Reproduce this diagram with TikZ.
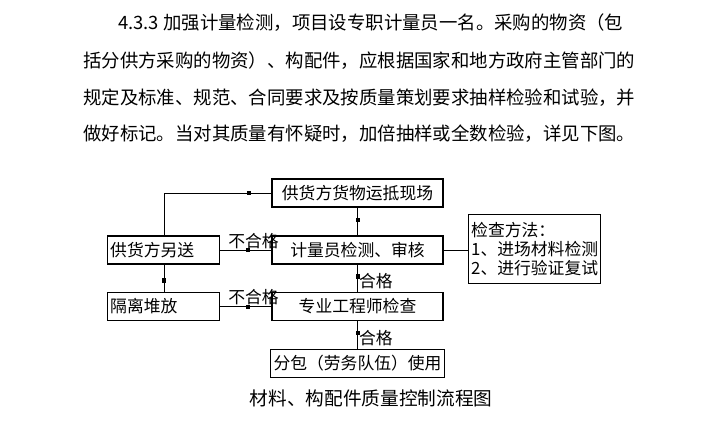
\documentclass[tikz,border=0pt]{standalone}
\usepackage{fontspec}
\setmainfont{Noto Sans CJK SC}
\usetikzlibrary{arrows.meta,decorations.markings}
\begin{document}
\begin{tikzpicture}[
    x=0.75pt,y=-0.75pt,
    flowbox/.style={
        draw, line width=0.8pt, % border
        minimum height=21pt,
        inner sep=2pt,
        font=\fontsize{12.6pt}{14pt}\selectfont},
    sidebox/.style={flowbox, text width=80pt, align=left, anchor=west},
    paraline/.style={anchor=base west, inner sep=0pt,
        font=\fontsize{13.8pt}{18pt}\selectfont},
    midtip/.style={
        postaction={decorate},
        decoration={markings,
          mark=at position 0.5 with {\arrow{Rectangle[length=3pt,width=3pt]}}}},
    lab/.style={font=\fontsize{12.6pt}{14pt}\selectfont, inner sep=1pt}
  ]
  \useasboundingbox (0,0) rectangle (714,422);
  % paragraph
  \node[paraline] (p1) at (118,29) {4.3.3 加强计量检测，项目设专职计量员一名。采购的物资（包};
  \node[paraline] (p2) at (83,67) {括分供方采购的物资）、构配件，应根据国家和地方政府主管部门的};
  \node[paraline] (p3) at (83,104) {规定及标准、规范、合同要求及按质量策划要求抽样检验和试验，并};
  \node[paraline] (p4) at (83,140) {做好标记。当对其质量有怀疑时，加倍抽样或全数检验，详见下图。};
  % boxes
  \node[flowbox, minimum width=128.25pt] (arrive) at (357.5,193) {供货方货物运抵现场};
  \node[flowbox, minimum width=128.25pt] (check) at (357.5,250) {计量员检测、审核};
  \node[flowbox, minimum width=128.25pt] (engr) at (357.5,306.5) {专业工程师检查};
  \node[flowbox, minimum width=128.25pt] (use) at (357.5,363.5) {分包（劳务队伍）使用};
  \node[sidebox] (resend) at (107,250) {供货方另送};
  \node[sidebox] (isolate) at (107,306.5) {隔离堆放};
  \node[flowbox, minimum width=98.25pt, minimum height=51.75pt, align=left,
        anchor=north west] (method) at (468,214)
        {检查方法：\\1、进场材料检测\\2、进行验证复试};
  % connectors
  \draw[midtip] (arrive) -- (check);
  \draw[midtip] (check) -- node[lab, right, yshift=-2pt] {合格} (engr);
  \draw[midtip] (engr) -- node[lab, right, yshift=-2pt] {合格} (use);
  \draw[midtip] (check) -- node[lab, above, pos=0.35] {不合格} (resend);
  \draw[midtip] (engr) -- node[lab, above, pos=0.35] {不合格} (isolate);
  \draw[midtip] (isolate.north -| 164,0) -- (resend.south -| 164,0);
  \draw (resend.north -| 164,0) |- (272,193);
  \draw[midtip] (230,193) -- (arrive.west);
  \draw (check) -- (method.west |- check);
  % caption
  \node[font=\fontsize{14pt}{16pt}\selectfont] (cap) at (371,398) {材料、构配件质量控制流程图};
\end{tikzpicture}
\end{document}
